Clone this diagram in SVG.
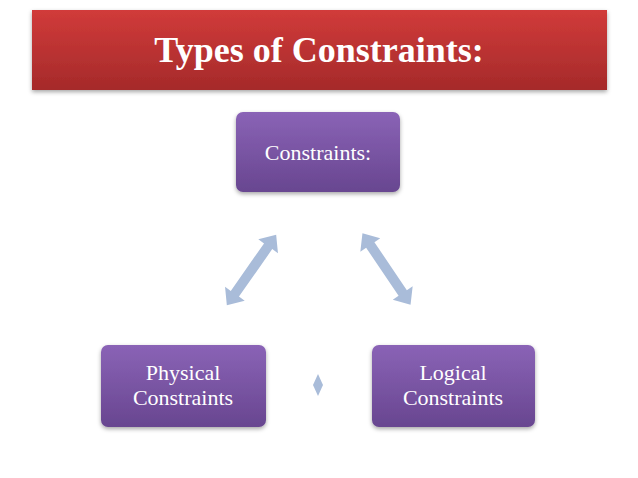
<svg xmlns="http://www.w3.org/2000/svg" width="638" height="478" viewBox="0 0 638 478">
<defs>
<linearGradient id="red" x1="0" y1="0" x2="0" y2="1"><stop offset="0" stop-color="#d13b3a"/><stop offset="1" stop-color="#a52a2a"/></linearGradient>
<linearGradient id="pur" x1="0" y1="0" x2="0" y2="1"><stop offset="0" stop-color="#8a63b6"/><stop offset="1" stop-color="#684690"/></linearGradient>
<filter id="sh" x="-10%" y="-10%" width="120%" height="130%"><feDropShadow dx="0" dy="2" stdDeviation="2" flood-color="#000" flood-opacity="0.35"/></filter>
</defs>
<style>
.node{fill:url(#pur);filter:url(#sh)}
.t{font-family:"Liberation Serif",serif;fill:#fff;text-anchor:middle}
.nt{font-size:22px}
.arr{fill:#a9bcd9}
</style>
<g id="title">
<rect x="32" y="10" width="575" height="80" fill="url(#red)" filter="url(#sh)"/>
<text class="t" x="319" y="62" font-size="36" font-weight="bold">Types of Constraints:</text>
</g>
<g id="n-top">
<rect class="node" x="236" y="112" width="164" height="80" rx="7"/>
<text class="t nt" x="318" y="160" font-size="25">Constraints:</text>
</g>
<g id="n-left">
<rect class="node" x="101" y="345" width="165" height="82" rx="7"/>
<text class="t nt" x="183" y="380">Physical</text>
<text class="t nt" x="183" y="405">Constraints</text>
</g>
<g id="n-right">
<rect class="node" x="372" y="345" width="163" height="82" rx="7"/>
<text class="t nt" x="453" y="380">Logical</text>
<text class="t nt" x="453" y="405">Constraints</text>
</g>
<g id="connectors">
<polygon class="arr" transform="translate(251.5,270) rotate(-55)" points="-43,0 -29,-12 -29,-5 29,-5 29,-12 43,0 29,12 29,5 -29,5 -29,12"/>
<polygon class="arr" transform="translate(386.5,269) rotate(56)" points="-43,0 -29,-12 -29,-5 29,-5 29,-12 43,0 29,12 29,5 -29,5 -29,12"/>
<polygon class="arr" points="318,374 323,385 318,396 313,385"/>
</g>
</svg>
